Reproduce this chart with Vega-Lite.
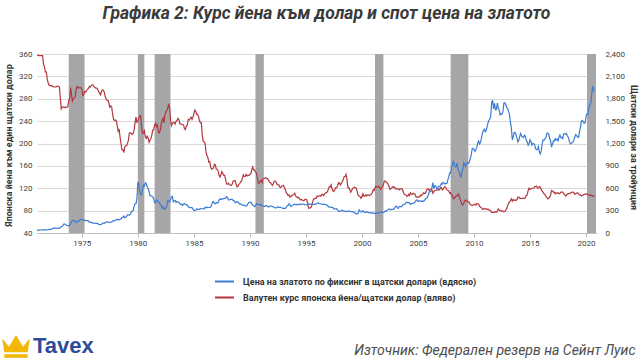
{
"$schema": "https://vega.github.io/schema/vega-lite/v6.json",
"width": 559, "height": 179,
"autosize": {"type": "none"},
"padding": {"left": 37, "top": 54, "right": 44, "bottom": 128},
"background": "white",
"config": {"view": {"stroke": null}, "font": "Roboto"},
"title": {"text": "Графика 2: Курс йена към долар и спот цена на златото", "font": "Roboto", "fontSize": 17.5, "fontStyle": "italic", "fontWeight": "bold", "color": "#3a3a3a", "anchor": "middle", "frame": "group", "offset": 28, "dx": 10},
"datasets": {
"recessions": [
{"start": "1973-11-01", "end": "1975-03-31"},
{"start": "1980-01-01", "end": "1980-07-31"},
{"start": "1981-07-01", "end": "1982-11-30"},
{"start": "1990-07-01", "end": "1991-03-31"},
{"start": "2001-03-01", "end": "2001-11-30"},
{"start": "2007-12-01", "end": "2009-06-30"},
{"start": "2020-02-01", "end": "2020-11-20"}
],
"series": [
{"date":"1971-01-01","yen":358,"gold":37.9},{"date":"1971-02-01","yen":358,"gold":38.7},{"date":"1971-03-01","yen":357,"gold":38.9},{"date":"1971-04-01","yen":357,"gold":39.0},{"date":"1971-05-01","yen":357,"gold":40.5},{"date":"1971-06-01","yen":357,"gold":40.1},{"date":"1971-07-01","yen":357,"gold":41.0},{"date":"1971-08-01","yen":342,"gold":42.7},{"date":"1971-09-01","yen":337,"gold":42.0},{"date":"1971-10-01","yen":328,"gold":42.5},{"date":"1971-11-01","yen":328,"gold":42.9},{"date":"1971-12-01","yen":315,"gold":43.5},
{"date":"1972-01-01","yen":308,"gold":45.7},{"date":"1972-02-01","yen":304,"gold":48.3},{"date":"1972-03-01","yen":303,"gold":48.3},{"date":"1972-04-01","yen":304,"gold":49.0},{"date":"1972-05-01","yen":303,"gold":54.6},{"date":"1972-06-01","yen":302,"gold":62.1},{"date":"1972-07-01","yen":301,"gold":65.7},{"date":"1972-08-01","yen":301,"gold":67.0},{"date":"1972-09-01","yen":301,"gold":65.5},{"date":"1972-10-01","yen":302,"gold":64.9},{"date":"1972-11-01","yen":302,"gold":62.9},{"date":"1972-12-01","yen":302,"gold":63.9},
{"date":"1973-01-01","yen":301,"gold":65.1},{"date":"1973-02-01","yen":280,"gold":74.2},{"date":"1973-03-01","yen":262,"gold":84.4},{"date":"1973-04-01","yen":265,"gold":90.5},{"date":"1973-05-01","yen":265,"gold":102},{"date":"1973-06-01","yen":265,"gold":122.5},{"date":"1973-07-01","yen":264,"gold":120.2},{"date":"1973-08-01","yen":265,"gold":106.8},{"date":"1973-09-01","yen":265,"gold":102.9},{"date":"1973-10-01","yen":266,"gold":100.1},{"date":"1973-11-01","yen":277,"gold":94.8},{"date":"1973-12-01","yen":280,"gold":106.7},
{"date":"1974-01-01","yen":300,"gold":129},{"date":"1974-02-01","yen":287,"gold":150},{"date":"1974-03-01","yen":276,"gold":168},{"date":"1974-04-01","yen":280,"gold":172},{"date":"1974-05-01","yen":281,"gold":163},{"date":"1974-06-01","yen":284,"gold":154},{"date":"1974-07-01","yen":297,"gold":143},{"date":"1974-08-01","yen":302,"gold":155},{"date":"1974-09-01","yen":299,"gold":152},{"date":"1974-10-01","yen":300,"gold":159},{"date":"1974-11-01","yen":300,"gold":182},{"date":"1974-12-01","yen":300,"gold":184},
{"date":"1975-01-01","yen":297,"gold":176},{"date":"1975-02-01","yen":286,"gold":180},{"date":"1975-03-01","yen":287,"gold":178},{"date":"1975-04-01","yen":293,"gold":170},{"date":"1975-05-01","yen":292,"gold":167},{"date":"1975-06-01","yen":294,"gold":164},{"date":"1975-07-01","yen":297,"gold":165},{"date":"1975-08-01","yen":298,"gold":163},{"date":"1975-09-01","yen":302,"gold":144},{"date":"1975-10-01","yen":301,"gold":143},{"date":"1975-11-01","yen":303,"gold":143},{"date":"1975-12-01","yen":305,"gold":139},
{"date":"1976-01-01","yen":305,"gold":132},{"date":"1976-02-01","yen":302,"gold":131},{"date":"1976-03-01","yen":300,"gold":133},{"date":"1976-04-01","yen":299,"gold":128},{"date":"1976-05-01","yen":299,"gold":128},{"date":"1976-06-01","yen":297,"gold":126},{"date":"1976-07-01","yen":293,"gold":118},{"date":"1976-08-01","yen":290,"gold":109},{"date":"1976-09-01","yen":287,"gold":114},{"date":"1976-10-01","yen":293,"gold":116},{"date":"1976-11-01","yen":296,"gold":130},{"date":"1976-12-01","yen":295,"gold":134},
{"date":"1977-01-01","yen":292,"gold":132},{"date":"1977-02-01","yen":284,"gold":136},{"date":"1977-03-01","yen":280,"gold":148},{"date":"1977-04-01","yen":277,"gold":149},{"date":"1977-05-01","yen":277,"gold":147},{"date":"1977-06-01","yen":272,"gold":141},{"date":"1977-07-01","yen":265,"gold":143},{"date":"1977-08-01","yen":267,"gold":145},{"date":"1977-09-01","yen":265,"gold":150},{"date":"1977-10-01","yen":253,"gold":159},{"date":"1977-11-01","yen":243,"gold":162},{"date":"1977-12-01","yen":241,"gold":161},
{"date":"1978-01-01","yen":242,"gold":173},{"date":"1978-02-01","yen":240,"gold":178},{"date":"1978-03-01","yen":231,"gold":184},{"date":"1978-04-01","yen":222,"gold":176},{"date":"1978-05-01","yen":226,"gold":176},{"date":"1978-06-01","yen":211,"gold":184},{"date":"1978-07-01","yen":200,"gold":189},{"date":"1978-08-01","yen":189,"gold":206},{"date":"1978-09-01","yen":189,"gold":212},{"date":"1978-10-01","yen":184,"gold":227},{"date":"1978-11-01","yen":194,"gold":206},{"date":"1978-12-01","yen":196,"gold":208},
{"date":"1979-01-01","yen":196,"gold":227},{"date":"1979-02-01","yen":201,"gold":246},{"date":"1979-03-01","yen":206,"gold":242},{"date":"1979-04-01","yen":219,"gold":239},{"date":"1979-05-01","yen":219,"gold":258},{"date":"1979-06-01","yen":218,"gold":279},{"date":"1979-07-01","yen":216,"gold":295},{"date":"1979-08-01","yen":218,"gold":301},{"date":"1979-09-01","yen":224,"gold":355},{"date":"1979-10-01","yen":237,"gold":392},{"date":"1979-11-01","yen":247,"gold":393},{"date":"1979-12-01","yen":238,"gold":455},
{"date":"1980-01-01","yen":240,"gold":675},{"date":"1980-02-01","yen":245,"gold":665},{"date":"1980-03-01","yen":249,"gold":554},{"date":"1980-04-01","yen":250,"gold":517},{"date":"1980-05-01","yen":229,"gold":514},{"date":"1980-06-01","yen":218,"gold":601},{"date":"1980-07-01","yen":219,"gold":644},{"date":"1980-08-01","yen":223,"gold":627},{"date":"1980-09-01","yen":212,"gold":674},{"date":"1980-10-01","yen":209,"gold":661},{"date":"1980-11-01","yen":213,"gold":624},{"date":"1980-12-01","yen":210,"gold":595},
{"date":"1981-01-01","yen":202,"gold":557},{"date":"1981-02-01","yen":206,"gold":500},{"date":"1981-03-01","yen":209,"gold":498},{"date":"1981-04-01","yen":215,"gold":496},{"date":"1981-05-01","yen":224,"gold":480},{"date":"1981-06-01","yen":225,"gold":461},{"date":"1981-07-01","yen":233,"gold":409},{"date":"1981-08-01","yen":236,"gold":410},{"date":"1981-09-01","yen":230,"gold":443},{"date":"1981-10-01","yen":233,"gold":437},{"date":"1981-11-01","yen":220,"gold":413},{"date":"1981-12-01","yen":219,"gold":410},
{"date":"1982-01-01","yen":224,"gold":384},{"date":"1982-02-01","yen":235,"gold":374},{"date":"1982-03-01","yen":241,"gold":330},{"date":"1982-04-01","yen":245,"gold":350},{"date":"1982-05-01","yen":237,"gold":334},{"date":"1982-06-01","yen":251,"gold":314},{"date":"1982-07-01","yen":256,"gold":341},{"date":"1982-08-01","yen":259,"gold":364},{"date":"1982-09-01","yen":263,"gold":435},{"date":"1982-10-01","yen":271,"gold":422},{"date":"1982-11-01","yen":264,"gold":415},{"date":"1982-12-01","yen":242,"gold":444},
{"date":"1983-01-01","yen":232,"gold":481},{"date":"1983-02-01","yen":236,"gold":491},{"date":"1983-03-01","yen":238,"gold":420},{"date":"1983-04-01","yen":237,"gold":432},{"date":"1983-05-01","yen":235,"gold":437},{"date":"1983-06-01","yen":240,"gold":412},{"date":"1983-07-01","yen":241,"gold":422},{"date":"1983-08-01","yen":245,"gold":416},{"date":"1983-09-01","yen":243,"gold":411},{"date":"1983-10-01","yen":235,"gold":393},{"date":"1983-11-01","yen":235,"gold":382},{"date":"1983-12-01","yen":234,"gold":388},
{"date":"1984-01-01","yen":234,"gold":370},{"date":"1984-02-01","yen":233,"gold":386},{"date":"1984-03-01","yen":226,"gold":394},{"date":"1984-04-01","yen":225,"gold":381},{"date":"1984-05-01","yen":231,"gold":377},{"date":"1984-06-01","yen":233,"gold":378},{"date":"1984-07-01","yen":243,"gold":348},{"date":"1984-08-01","yen":242,"gold":347},{"date":"1984-09-01","yen":245,"gold":341},{"date":"1984-10-01","yen":247,"gold":340},{"date":"1984-11-01","yen":243,"gold":341},{"date":"1984-12-01","yen":247,"gold":320},
{"date":"1985-01-01","yen":254,"gold":303},{"date":"1985-02-01","yen":260,"gold":299},{"date":"1985-03-01","yen":258,"gold":304},{"date":"1985-04-01","yen":252,"gold":325},{"date":"1985-05-01","yen":252,"gold":316},{"date":"1985-06-01","yen":249,"gold":316},{"date":"1985-07-01","yen":241,"gold":317},{"date":"1985-08-01","yen":237,"gold":330},{"date":"1985-09-01","yen":237,"gold":323},{"date":"1985-10-01","yen":215,"gold":325},{"date":"1985-11-01","yen":204,"gold":325},{"date":"1985-12-01","yen":203,"gold":321},
{"date":"1986-01-01","yen":200,"gold":345},{"date":"1986-02-01","yen":184,"gold":339},{"date":"1986-03-01","yen":179,"gold":346},{"date":"1986-04-01","yen":175,"gold":340},{"date":"1986-05-01","yen":167,"gold":342},{"date":"1986-06-01","yen":168,"gold":343},{"date":"1986-07-01","yen":158,"gold":348},{"date":"1986-08-01","yen":154,"gold":376},{"date":"1986-09-01","yen":155,"gold":418},{"date":"1986-10-01","yen":156,"gold":423},{"date":"1986-11-01","yen":163,"gold":397},{"date":"1986-12-01","yen":162,"gold":391},
{"date":"1987-01-01","yen":154,"gold":408},{"date":"1987-02-01","yen":154,"gold":401},{"date":"1987-03-01","yen":151,"gold":409},{"date":"1987-04-01","yen":143,"gold":438},{"date":"1987-05-01","yen":140,"gold":460},{"date":"1987-06-01","yen":144,"gold":450},{"date":"1987-07-01","yen":150,"gold":450},{"date":"1987-08-01","yen":147,"gold":460},{"date":"1987-09-01","yen":143,"gold":460},{"date":"1987-10-01","yen":143,"gold":465},{"date":"1987-11-01","yen":136,"gold":467},{"date":"1987-12-01","yen":128,"gold":487},
{"date":"1988-01-01","yen":127,"gold":477},{"date":"1988-02-01","yen":129,"gold":443},{"date":"1988-03-01","yen":127,"gold":444},{"date":"1988-04-01","yen":125,"gold":452},{"date":"1988-05-01","yen":125,"gold":451},{"date":"1988-06-01","yen":127,"gold":452},{"date":"1988-07-01","yen":133,"gold":437},{"date":"1988-08-01","yen":133,"gold":433},{"date":"1988-09-01","yen":134,"gold":413},{"date":"1988-10-01","yen":129,"gold":406},{"date":"1988-11-01","yen":123,"gold":420},{"date":"1988-12-01","yen":123,"gold":419},
{"date":"1989-01-01","yen":127,"gold":404},{"date":"1989-02-01","yen":128,"gold":388},{"date":"1989-03-01","yen":131,"gold":390},{"date":"1989-04-01","yen":133,"gold":384},{"date":"1989-05-01","yen":138,"gold":371},{"date":"1989-06-01","yen":144,"gold":367},{"date":"1989-07-01","yen":141,"gold":375},{"date":"1989-08-01","yen":141,"gold":365},{"date":"1989-09-01","yen":145,"gold":362},{"date":"1989-10-01","yen":142,"gold":367},{"date":"1989-11-01","yen":143,"gold":394},{"date":"1989-12-01","yen":143,"gold":409},
{"date":"1990-01-01","yen":145,"gold":410},{"date":"1990-02-01","yen":146,"gold":416},{"date":"1990-03-01","yen":153,"gold":393},{"date":"1990-04-01","yen":158,"gold":374},{"date":"1990-05-01","yen":153,"gold":369},{"date":"1990-06-01","yen":153,"gold":352},{"date":"1990-07-01","yen":149,"gold":362},{"date":"1990-08-01","yen":147,"gold":395},{"date":"1990-09-01","yen":139,"gold":389},{"date":"1990-10-01","yen":129,"gold":380},{"date":"1990-11-01","yen":129,"gold":381},{"date":"1990-12-01","yen":133,"gold":377},
{"date":"1991-01-01","yen":134,"gold":383},{"date":"1991-02-01","yen":130,"gold":364},{"date":"1991-03-01","yen":137,"gold":364},{"date":"1991-04-01","yen":137,"gold":357},{"date":"1991-05-01","yen":138,"gold":357},{"date":"1991-06-01","yen":139,"gold":367},{"date":"1991-07-01","yen":138,"gold":368},{"date":"1991-08-01","yen":137,"gold":356},{"date":"1991-09-01","yen":134,"gold":349},{"date":"1991-10-01","yen":131,"gold":359},{"date":"1991-11-01","yen":130,"gold":360},{"date":"1991-12-01","yen":128,"gold":361},
{"date":"1992-01-01","yen":125,"gold":354},{"date":"1992-02-01","yen":128,"gold":354},{"date":"1992-03-01","yen":133,"gold":345},{"date":"1992-04-01","yen":133,"gold":338},{"date":"1992-05-01","yen":131,"gold":337},{"date":"1992-06-01","yen":127,"gold":341},{"date":"1992-07-01","yen":126,"gold":353},{"date":"1992-08-01","yen":126,"gold":343},{"date":"1992-09-01","yen":122,"gold":345},{"date":"1992-10-01","yen":121,"gold":344},{"date":"1992-11-01","yen":124,"gold":335},{"date":"1992-12-01","yen":124,"gold":334},
{"date":"1993-01-01","yen":125,"gold":329},{"date":"1993-02-01","yen":121,"gold":330},{"date":"1993-03-01","yen":117,"gold":330},{"date":"1993-04-01","yen":112,"gold":342},{"date":"1993-05-01","yen":110,"gold":367},{"date":"1993-06-01","yen":107,"gold":372},{"date":"1993-07-01","yen":108,"gold":392},{"date":"1993-08-01","yen":104,"gold":378},{"date":"1993-09-01","yen":105,"gold":355},{"date":"1993-10-01","yen":107,"gold":364},{"date":"1993-11-01","yen":108,"gold":374},{"date":"1993-12-01","yen":109,"gold":383},
{"date":"1994-01-01","yen":111,"gold":387},{"date":"1994-02-01","yen":106,"gold":382},{"date":"1994-03-01","yen":105,"gold":384},{"date":"1994-04-01","yen":103,"gold":378},{"date":"1994-05-01","yen":104,"gold":381},{"date":"1994-06-01","yen":102,"gold":386},{"date":"1994-07-01","yen":99,"gold":385},{"date":"1994-08-01","yen":100,"gold":380},{"date":"1994-09-01","yen":99,"gold":391},{"date":"1994-10-01","yen":98,"gold":389},{"date":"1994-11-01","yen":98,"gold":384},{"date":"1994-12-01","yen":100,"gold":379},
{"date":"1995-01-01","yen":100,"gold":379},{"date":"1995-02-01","yen":99,"gold":377},{"date":"1995-03-01","yen":91,"gold":382},{"date":"1995-04-01","yen":84,"gold":391},{"date":"1995-05-01","yen":85,"gold":385},{"date":"1995-06-01","yen":85,"gold":387},{"date":"1995-07-01","yen":87,"gold":386},{"date":"1995-08-01","yen":94,"gold":383},{"date":"1995-09-01","yen":100,"gold":383},{"date":"1995-10-01","yen":101,"gold":383},{"date":"1995-11-01","yen":102,"gold":386},{"date":"1995-12-01","yen":102,"gold":387},
{"date":"1996-01-01","yen":106,"gold":400},{"date":"1996-02-01","yen":105,"gold":405},{"date":"1996-03-01","yen":106,"gold":396},{"date":"1996-04-01","yen":107,"gold":393},{"date":"1996-05-01","yen":106,"gold":392},{"date":"1996-06-01","yen":109,"gold":385},{"date":"1996-07-01","yen":109,"gold":383},{"date":"1996-08-01","yen":107,"gold":387},{"date":"1996-09-01","yen":110,"gold":383},{"date":"1996-10-01","yen":112,"gold":381},{"date":"1996-11-01","yen":112,"gold":378},{"date":"1996-12-01","yen":114,"gold":369},
{"date":"1997-01-01","yen":118,"gold":355},{"date":"1997-02-01","yen":123,"gold":346},{"date":"1997-03-01","yen":122,"gold":351},{"date":"1997-04-01","yen":126,"gold":344},{"date":"1997-05-01","yen":119,"gold":344},{"date":"1997-06-01","yen":115,"gold":341},{"date":"1997-07-01","yen":115,"gold":324},{"date":"1997-08-01","yen":118,"gold":324},{"date":"1997-09-01","yen":121,"gold":323},{"date":"1997-10-01","yen":121,"gold":325},{"date":"1997-11-01","yen":125,"gold":306},{"date":"1997-12-01","yen":130,"gold":289},
{"date":"1998-01-01","yen":129,"gold":289},{"date":"1998-02-01","yen":126,"gold":297},{"date":"1998-03-01","yen":129,"gold":296},{"date":"1998-04-01","yen":132,"gold":308},{"date":"1998-05-01","yen":135,"gold":299},{"date":"1998-06-01","yen":141,"gold":292},{"date":"1998-07-01","yen":141,"gold":293},{"date":"1998-08-01","yen":145,"gold":284},{"date":"1998-09-01","yen":135,"gold":289},{"date":"1998-10-01","yen":121,"gold":296},{"date":"1998-11-01","yen":121,"gold":294},{"date":"1998-12-01","yen":117,"gold":291},
{"date":"1999-01-01","yen":113,"gold":287},{"date":"1999-02-01","yen":116,"gold":287},{"date":"1999-03-01","yen":120,"gold":286},{"date":"1999-04-01","yen":120,"gold":282},{"date":"1999-05-01","yen":122,"gold":277},{"date":"1999-06-01","yen":121,"gold":262},{"date":"1999-07-01","yen":120,"gold":256},{"date":"1999-08-01","yen":114,"gold":257},{"date":"1999-09-01","yen":107,"gold":265},{"date":"1999-10-01","yen":106,"gold":311},{"date":"1999-11-01","yen":105,"gold":293},{"date":"1999-12-01","yen":102,"gold":283},
{"date":"2000-01-01","yen":105,"gold":284},{"date":"2000-02-01","yen":110,"gold":300},{"date":"2000-03-01","yen":106,"gold":286},{"date":"2000-04-01","yen":106,"gold":280},{"date":"2000-05-01","yen":108,"gold":275},{"date":"2000-06-01","yen":106,"gold":285},{"date":"2000-07-01","yen":108,"gold":282},{"date":"2000-08-01","yen":108,"gold":274},{"date":"2000-09-01","yen":107,"gold":273},{"date":"2000-10-01","yen":108,"gold":270},{"date":"2000-11-01","yen":109,"gold":266},{"date":"2000-12-01","yen":112,"gold":272},
{"date":"2001-01-01","yen":117,"gold":265},{"date":"2001-02-01","yen":116,"gold":262},{"date":"2001-03-01","yen":121,"gold":263},{"date":"2001-04-01","yen":124,"gold":260},{"date":"2001-05-01","yen":122,"gold":272},{"date":"2001-06-01","yen":122,"gold":270},{"date":"2001-07-01","yen":124,"gold":268},{"date":"2001-08-01","yen":121,"gold":273},{"date":"2001-09-01","yen":118,"gold":283},{"date":"2001-10-01","yen":121,"gold":283},{"date":"2001-11-01","yen":122,"gold":276},{"date":"2001-12-01","yen":127,"gold":276},
{"date":"2002-01-01","yen":133,"gold":282},{"date":"2002-02-01","yen":133,"gold":296},{"date":"2002-03-01","yen":131,"gold":294},{"date":"2002-04-01","yen":130,"gold":303},{"date":"2002-05-01","yen":127,"gold":314},{"date":"2002-06-01","yen":123,"gold":322},{"date":"2002-07-01","yen":118,"gold":314},{"date":"2002-08-01","yen":119,"gold":310},{"date":"2002-09-01","yen":121,"gold":319},{"date":"2002-10-01","yen":123,"gold":317},{"date":"2002-11-01","yen":121,"gold":319},{"date":"2002-12-01","yen":122,"gold":333},
{"date":"2003-01-01","yen":119,"gold":357},{"date":"2003-02-01","yen":119,"gold":359},{"date":"2003-03-01","yen":119,"gold":341},{"date":"2003-04-01","yen":119,"gold":328},{"date":"2003-05-01","yen":117,"gold":355},{"date":"2003-06-01","yen":119,"gold":356},{"date":"2003-07-01","yen":119,"gold":351},{"date":"2003-08-01","yen":119,"gold":360},{"date":"2003-09-01","yen":115,"gold":379},{"date":"2003-10-01","yen":110,"gold":379},{"date":"2003-11-01","yen":109,"gold":389},{"date":"2003-12-01","yen":108,"gold":407},
{"date":"2004-01-01","yen":106,"gold":414},{"date":"2004-02-01","yen":106,"gold":405},{"date":"2004-03-01","yen":109,"gold":406},{"date":"2004-04-01","yen":107,"gold":404},{"date":"2004-05-01","yen":112,"gold":383},{"date":"2004-06-01","yen":110,"gold":392},{"date":"2004-07-01","yen":109,"gold":398},{"date":"2004-08-01","yen":111,"gold":400},{"date":"2004-09-01","yen":110,"gold":406},{"date":"2004-10-01","yen":109,"gold":420},{"date":"2004-11-01","yen":104,"gold":439},{"date":"2004-12-01","yen":104,"gold":442},
{"date":"2005-01-01","yen":104,"gold":424},{"date":"2005-02-01","yen":105,"gold":423},{"date":"2005-03-01","yen":105,"gold":434},{"date":"2005-04-01","yen":108,"gold":429},{"date":"2005-05-01","yen":107,"gold":422},{"date":"2005-06-01","yen":109,"gold":430},{"date":"2005-07-01","yen":112,"gold":424},{"date":"2005-08-01","yen":111,"gold":437},{"date":"2005-09-01","yen":111,"gold":456},{"date":"2005-10-01","yen":115,"gold":470},{"date":"2005-11-01","yen":119,"gold":476},{"date":"2005-12-01","yen":119,"gold":510},
{"date":"2006-01-01","yen":116,"gold":549},{"date":"2006-02-01","yen":118,"gold":555},{"date":"2006-03-01","yen":118,"gold":557},{"date":"2006-04-01","yen":117,"gold":610},{"date":"2006-05-01","yen":111,"gold":676},{"date":"2006-06-01","yen":114,"gold":596},{"date":"2006-07-01","yen":116,"gold":633},{"date":"2006-08-01","yen":116,"gold":632},{"date":"2006-09-01","yen":117,"gold":599},{"date":"2006-10-01","yen":119,"gold":586},{"date":"2006-11-01","yen":117,"gold":627},{"date":"2006-12-01","yen":117,"gold":629},
{"date":"2007-01-01","yen":121,"gold":631},{"date":"2007-02-01","yen":121,"gold":664},{"date":"2007-03-01","yen":117,"gold":655},{"date":"2007-04-01","yen":119,"gold":680},{"date":"2007-05-01","yen":121,"gold":668},{"date":"2007-06-01","yen":123,"gold":656},{"date":"2007-07-01","yen":121,"gold":665},{"date":"2007-08-01","yen":117,"gold":665},{"date":"2007-09-01","yen":116,"gold":713},{"date":"2007-10-01","yen":116,"gold":754},{"date":"2007-11-01","yen":111,"gold":806},{"date":"2007-12-01","yen":112,"gold":803},
{"date":"2008-01-01","yen":108,"gold":889},{"date":"2008-02-01","yen":107,"gold":922},{"date":"2008-03-01","yen":101,"gold":968},{"date":"2008-04-01","yen":102,"gold":909},{"date":"2008-05-01","yen":104,"gold":888},{"date":"2008-06-01","yen":107,"gold":889},{"date":"2008-07-01","yen":106,"gold":939},{"date":"2008-08-01","yen":110,"gold":839},{"date":"2008-09-01","yen":107,"gold":829},{"date":"2008-10-01","yen":100,"gold":770},{"date":"2008-11-01","yen":97,"gold":750},{"date":"2008-12-01","yen":91,"gold":816},
{"date":"2009-01-01","yen":90,"gold":858},{"date":"2009-02-01","yen":93,"gold":943},{"date":"2009-03-01","yen":98,"gold":924},{"date":"2009-04-01","yen":99,"gold":890},{"date":"2009-05-01","yen":97,"gold":928},{"date":"2009-06-01","yen":97,"gold":946},{"date":"2009-07-01","yen":95,"gold":934},{"date":"2009-08-01","yen":95,"gold":949},{"date":"2009-09-01","yen":91,"gold":996},{"date":"2009-10-01","yen":90,"gold":1043},{"date":"2009-11-01","yen":89,"gold":1127},{"date":"2009-12-01","yen":90,"gold":1135},
{"date":"2010-01-01","yen":91,"gold":1118},{"date":"2010-02-01","yen":91,"gold":1095},{"date":"2010-03-01","yen":90,"gold":1113},{"date":"2010-04-01","yen":93,"gold":1148},{"date":"2010-05-01","yen":92,"gold":1205},{"date":"2010-06-01","yen":91,"gold":1233},{"date":"2010-07-01","yen":88,"gold":1193},{"date":"2010-08-01","yen":86,"gold":1215},{"date":"2010-09-01","yen":85,"gold":1271},{"date":"2010-10-01","yen":82,"gold":1343},{"date":"2010-11-01","yen":83,"gold":1370},{"date":"2010-12-01","yen":84,"gold":1391},
{"date":"2011-01-01","yen":83,"gold":1356},{"date":"2011-02-01","yen":83,"gold":1372},{"date":"2011-03-01","yen":82,"gold":1424},{"date":"2011-04-01","yen":83,"gold":1474},{"date":"2011-05-01","yen":81,"gold":1510},{"date":"2011-06-01","yen":81,"gold":1529},{"date":"2011-07-01","yen":79,"gold":1572},{"date":"2011-08-01","yen":77,"gold":1756},{"date":"2011-09-01","yen":77,"gold":1772},{"date":"2011-10-01","yen":77,"gold":1665},{"date":"2011-11-01","yen":77,"gold":1739},{"date":"2011-12-01","yen":78,"gold":1652},
{"date":"2012-01-01","yen":77,"gold":1656},{"date":"2012-02-01","yen":79,"gold":1743},{"date":"2012-03-01","yen":83,"gold":1674},{"date":"2012-04-01","yen":81,"gold":1650},{"date":"2012-05-01","yen":80,"gold":1585},{"date":"2012-06-01","yen":80,"gold":1596},{"date":"2012-07-01","yen":79,"gold":1594},{"date":"2012-08-01","yen":79,"gold":1630},{"date":"2012-09-01","yen":78,"gold":1744},{"date":"2012-10-01","yen":79,"gold":1747},{"date":"2012-11-01","yen":81,"gold":1722},{"date":"2012-12-01","yen":84,"gold":1684},
{"date":"2013-01-01","yen":89,"gold":1671},{"date":"2013-02-01","yen":93,"gold":1627},{"date":"2013-03-01","yen":95,"gold":1593},{"date":"2013-04-01","yen":98,"gold":1487},{"date":"2013-05-01","yen":101,"gold":1414},{"date":"2013-06-01","yen":97,"gold":1250},{"date":"2013-07-01","yen":100,"gold":1286},{"date":"2013-08-01","yen":98,"gold":1347},{"date":"2013-09-01","yen":99,"gold":1349},{"date":"2013-10-01","yen":98,"gold":1316},{"date":"2013-11-01","yen":100,"gold":1275},{"date":"2013-12-01","yen":104,"gold":1221},
{"date":"2014-01-01","yen":104,"gold":1244},{"date":"2014-02-01","yen":102,"gold":1300},{"date":"2014-03-01","yen":102,"gold":1336},{"date":"2014-04-01","yen":102,"gold":1299},{"date":"2014-05-01","yen":102,"gold":1287},{"date":"2014-06-01","yen":102,"gold":1279},{"date":"2014-07-01","yen":102,"gold":1311},{"date":"2014-08-01","yen":103,"gold":1296},{"date":"2014-09-01","yen":107,"gold":1239},{"date":"2014-10-01","yen":108,"gold":1222},{"date":"2014-11-01","yen":116,"gold":1176},{"date":"2014-12-01","yen":120,"gold":1200},
{"date":"2015-01-01","yen":118,"gold":1251},{"date":"2015-02-01","yen":119,"gold":1227},{"date":"2015-03-01","yen":120,"gold":1179},{"date":"2015-04-01","yen":120,"gold":1198},{"date":"2015-05-01","yen":120,"gold":1199},{"date":"2015-06-01","yen":123,"gold":1181},{"date":"2015-07-01","yen":123,"gold":1128},{"date":"2015-08-01","yen":124,"gold":1117},{"date":"2015-09-01","yen":120,"gold":1125},{"date":"2015-10-01","yen":120,"gold":1159},{"date":"2015-11-01","yen":123,"gold":1086},{"date":"2015-12-01","yen":122,"gold":1060},
{"date":"2016-01-01","yen":118,"gold":1097},{"date":"2016-02-01","yen":115,"gold":1199},{"date":"2016-03-01","yen":113,"gold":1246},{"date":"2016-04-01","yen":110,"gold":1242},{"date":"2016-05-01","yen":109,"gold":1261},{"date":"2016-06-01","yen":105,"gold":1276},{"date":"2016-07-01","yen":104,"gold":1337},{"date":"2016-08-01","yen":101,"gold":1340},{"date":"2016-09-01","yen":102,"gold":1326},{"date":"2016-10-01","yen":104,"gold":1267},{"date":"2016-11-01","yen":108,"gold":1238},{"date":"2016-12-01","yen":116,"gold":1152},
{"date":"2017-01-01","yen":115,"gold":1192},{"date":"2017-02-01","yen":113,"gold":1234},{"date":"2017-03-01","yen":113,"gold":1231},{"date":"2017-04-01","yen":110,"gold":1266},{"date":"2017-05-01","yen":112,"gold":1246},{"date":"2017-06-01","yen":111,"gold":1260},{"date":"2017-07-01","yen":112,"gold":1236},{"date":"2017-08-01","yen":110,"gold":1283},{"date":"2017-09-01","yen":111,"gold":1315},{"date":"2017-10-01","yen":113,"gold":1280},{"date":"2017-11-01","yen":113,"gold":1282},{"date":"2017-12-01","yen":113,"gold":1265},
{"date":"2018-01-01","yen":111,"gold":1331},{"date":"2018-02-01","yen":108,"gold":1331},{"date":"2018-03-01","yen":106,"gold":1325},{"date":"2018-04-01","yen":107,"gold":1335},{"date":"2018-05-01","yen":110,"gold":1303},{"date":"2018-06-01","yen":110,"gold":1282},{"date":"2018-07-01","yen":111,"gold":1238},{"date":"2018-08-01","yen":111,"gold":1195},{"date":"2018-09-01","yen":112,"gold":1198},{"date":"2018-10-01","yen":113,"gold":1215},{"date":"2018-11-01","yen":113,"gold":1221},{"date":"2018-12-01","yen":112,"gold":1250},
{"date":"2019-01-01","yen":109,"gold":1291},{"date":"2019-02-01","yen":110,"gold":1320},{"date":"2019-03-01","yen":111,"gold":1301},{"date":"2019-04-01","yen":112,"gold":1286},{"date":"2019-05-01","yen":110,"gold":1284},{"date":"2019-06-01","yen":108,"gold":1359},{"date":"2019-07-01","yen":108,"gold":1413},{"date":"2019-08-01","yen":106,"gold":1500},{"date":"2019-09-01","yen":107,"gold":1510},{"date":"2019-10-01","yen":108,"gold":1495},{"date":"2019-11-01","yen":109,"gold":1471},{"date":"2019-12-01","yen":109,"gold":1479},
{"date":"2020-01-01","yen":110,"gold":1560},{"date":"2020-02-01","yen":110,"gold":1597},{"date":"2020-03-01","yen":108,"gold":1591},{"date":"2020-04-01","yen":108,"gold":1683},{"date":"2020-05-01","yen":107,"gold":1716},{"date":"2020-06-01","yen":108,"gold":1732},{"date":"2020-07-01","yen":107,"gold":1847},{"date":"2020-08-01","yen":106,"gold":1968},{"date":"2020-09-01","yen":106,"gold":1921},{"date":"2020-10-01","yen":105,"gold":1900}
]
},
"layer": [
{
"data": {"name": "recessions"},
"mark": {"type": "rect", "color": "#a6a6a8"},
"encoding": {
"x": {"field": "start", "type": "temporal",
 "scale": {"type": "utc", "domain": [{"year": 1971, "month": 1, "date": 1, "utc": true}, {"year": 2020, "month": 11, "date": 20, "utc": true}]},
 "axis": {"orient": "bottom", "values": [{"year":1975,"month":1,"date":1,"utc":true},{"year":1980,"month":1,"date":1,"utc":true},{"year":1985,"month":1,"date":1,"utc":true},{"year":1990,"month":1,"date":1,"utc":true},{"year":1995,"month":1,"date":1,"utc":true},{"year":2000,"month":1,"date":1,"utc":true},{"year":2005,"month":1,"date":1,"utc":true},{"year":2010,"month":1,"date":1,"utc":true},{"year":2015,"month":1,"date":1,"utc":true},{"year":2020,"month":1,"date":1,"utc":true}],
  "format": "%Y", "formatType": "utc", "grid": false, "domain": true, "domainColor": "#bfbfbf", "ticks": true, "tickColor": "#bfbfbf", "tickSize": 4, "labelPadding": 2, "labelFlush": false, "labelOverlap": false,
  "labelFont": "Roboto", "labelFontSize": 8, "labelColor": "#404040",
  "title": "Източник: Федерален резерв на Сейнт Луис", "titleFont": "Roboto", "titleFontStyle": "italic", "titleFontWeight": "normal", "titleFontSize": 14, "titleColor": "#4d4d4d", "titleX": 598, "titleY": 121, "titleAlign": "right", "titleBaseline": "alphabetic"}},
"x2": {"field": "end"}
}
},
{
"data": {"values": []},
"mark": {"type": "point", "filled": true, "color": "#f2b705"},
"encoding": {
"shape": {"datum": "Tavex", "scale": {"range": ["M-1,-0.55L-0.5,0.05L0,-0.8L0.5,0.05L1,-0.55L0.85,0.45L-0.85,0.45Z M-0.85,0.6L0.85,0.6L0.85,0.85L-0.85,0.85Z"]},
 "legend": {"orient": "none", "legendX": -35, "legendY": 278, "title": null, "padding": 0,
  "symbolSize": 760, "symbolStrokeWidth": 0, "symbolFillColor": "#f2b705", "symbolOpacity": 1,
  "labelFont": "Liberation Sans", "labelFontSize": 22, "labelFontWeight": "bold", "labelColor": "#2d4b9a", "labelOffset": 3}}
}
},
{
"data": {"name": "series"},
"mark": {"type": "line", "strokeWidth": 1.2},
"encoding": {
"x": {"field": "date", "type": "temporal",
 "scale": {"type": "utc", "domain": [{"year": 1971, "month": 1, "date": 1, "utc": true}, {"year": 2020, "month": 11, "date": 20, "utc": true}]},
 "axis": {"orient": "bottom", "values": [{"year":1975,"month":1,"date":1,"utc":true},{"year":1980,"month":1,"date":1,"utc":true},{"year":1985,"month":1,"date":1,"utc":true},{"year":1990,"month":1,"date":1,"utc":true},{"year":1995,"month":1,"date":1,"utc":true},{"year":2000,"month":1,"date":1,"utc":true},{"year":2005,"month":1,"date":1,"utc":true},{"year":2010,"month":1,"date":1,"utc":true},{"year":2015,"month":1,"date":1,"utc":true},{"year":2020,"month":1,"date":1,"utc":true}],
  "format": "%Y", "formatType": "utc", "grid": false, "domain": true, "domainColor": "#bfbfbf", "ticks": true, "tickColor": "#bfbfbf", "tickSize": 4, "labelPadding": 2, "labelFlush": false, "labelOverlap": false,
  "labelFont": "Roboto", "labelFontSize": 8, "labelColor": "#404040",
  "title": "Източник: Федерален резерв на Сейнт Луис", "titleFont": "Roboto", "titleFontStyle": "italic", "titleFontWeight": "normal", "titleFontSize": 14, "titleColor": "#4d4d4d", "titleX": 598, "titleY": 121, "titleAlign": "right", "titleBaseline": "alphabetic"}},
"y": {"field": "yen", "type": "quantitative", "scale": {"domain": [40, 360], "nice": false, "zero": false},
 "axis": {"orient": "left", "values": [40, 80, 120, 160, 200, 240, 280, 320, 360], "grid": true, "gridColor": "#d9d9d9", "gridWidth": 1, "domain": false, "ticks": false, "labelPadding": 5, "labelFlush": false,
  "labelFont": "Roboto", "labelFontSize": 8, "labelColor": "#404040",
  "title": "Японска йена към един щатски долар", "titleFont": "Roboto", "titleFontSize": 9, "titleFontWeight": "bold", "titleColor": "#333333", "titleAngle": -90, "titleX": -29, "titleY": 91, "titleAlign": "center", "titleBaseline": "middle"}},
"color": {"datum": "Валутен курс японска йена/щатски долар (вляво)",
 "scale": {"domain": ["Цена на златото по фиксинг в щатски долари (вдясно)", "Валутен курс японска йена/щатски долар (вляво)"], "range": ["#3b7bd4", "#b3373d"]},
 "legend": {"orient": "none", "legendX": 177, "legendY": 217, "title": null, "padding": 0, "symbolType": "stroke", "symbolSize": 361, "symbolStrokeWidth": 2, "rowPadding": 0, "labelOffset": 8, "labelLimit": 400,
  "labelFont": "Roboto", "labelFontSize": 9, "labelFontWeight": "bold", "labelColor": "#333333"}}
}
},
{
"data": {"name": "series"},
"mark": {"type": "line", "strokeWidth": 1.2},
"encoding": {
"x": {"field": "date", "type": "temporal",
 "scale": {"type": "utc", "domain": [{"year": 1971, "month": 1, "date": 1, "utc": true}, {"year": 2020, "month": 11, "date": 20, "utc": true}]},
 "axis": {"orient": "bottom", "values": [{"year":1975,"month":1,"date":1,"utc":true},{"year":1980,"month":1,"date":1,"utc":true},{"year":1985,"month":1,"date":1,"utc":true},{"year":1990,"month":1,"date":1,"utc":true},{"year":1995,"month":1,"date":1,"utc":true},{"year":2000,"month":1,"date":1,"utc":true},{"year":2005,"month":1,"date":1,"utc":true},{"year":2010,"month":1,"date":1,"utc":true},{"year":2015,"month":1,"date":1,"utc":true},{"year":2020,"month":1,"date":1,"utc":true}],
  "format": "%Y", "formatType": "utc", "grid": false, "domain": true, "domainColor": "#bfbfbf", "ticks": true, "tickColor": "#bfbfbf", "tickSize": 4, "labelPadding": 2, "labelFlush": false, "labelOverlap": false,
  "labelFont": "Roboto", "labelFontSize": 8, "labelColor": "#404040",
  "title": "Източник: Федерален резерв на Сейнт Луис", "titleFont": "Roboto", "titleFontStyle": "italic", "titleFontWeight": "normal", "titleFontSize": 14, "titleColor": "#4d4d4d", "titleX": 598, "titleY": 121, "titleAlign": "right", "titleBaseline": "alphabetic"}},
"y": {"field": "gold", "type": "quantitative", "scale": {"domain": [0, 2400], "nice": false},
 "axis": {"orient": "right", "values": [0, 300, 600, 900, 1200, 1500, 1800, 2100, 2400], "format": ",.0f", "grid": false, "domain": false, "ticks": false, "labelPadding": 9, "labelFlush": false,
  "labelFont": "Roboto", "labelFontSize": 8, "labelColor": "#404040",
  "title": "Щатски долари за тройунция", "titleFont": "Roboto", "titleFontSize": 9, "titleFontWeight": "bold", "titleColor": "#333333", "titleAngle": 90, "titleX": 37, "titleY": 93, "titleAlign": "center", "titleBaseline": "middle"}},
"color": {"datum": "Цена на златото по фиксинг в щатски долари (вдясно)",
 "scale": {"domain": ["Цена на златото по фиксинг в щатски долари (вдясно)", "Валутен курс японска йена/щатски долар (вляво)"], "range": ["#3b7bd4", "#b3373d"]}}
}
}
],
"resolve": {"scale": {"y": "independent"}}
}
